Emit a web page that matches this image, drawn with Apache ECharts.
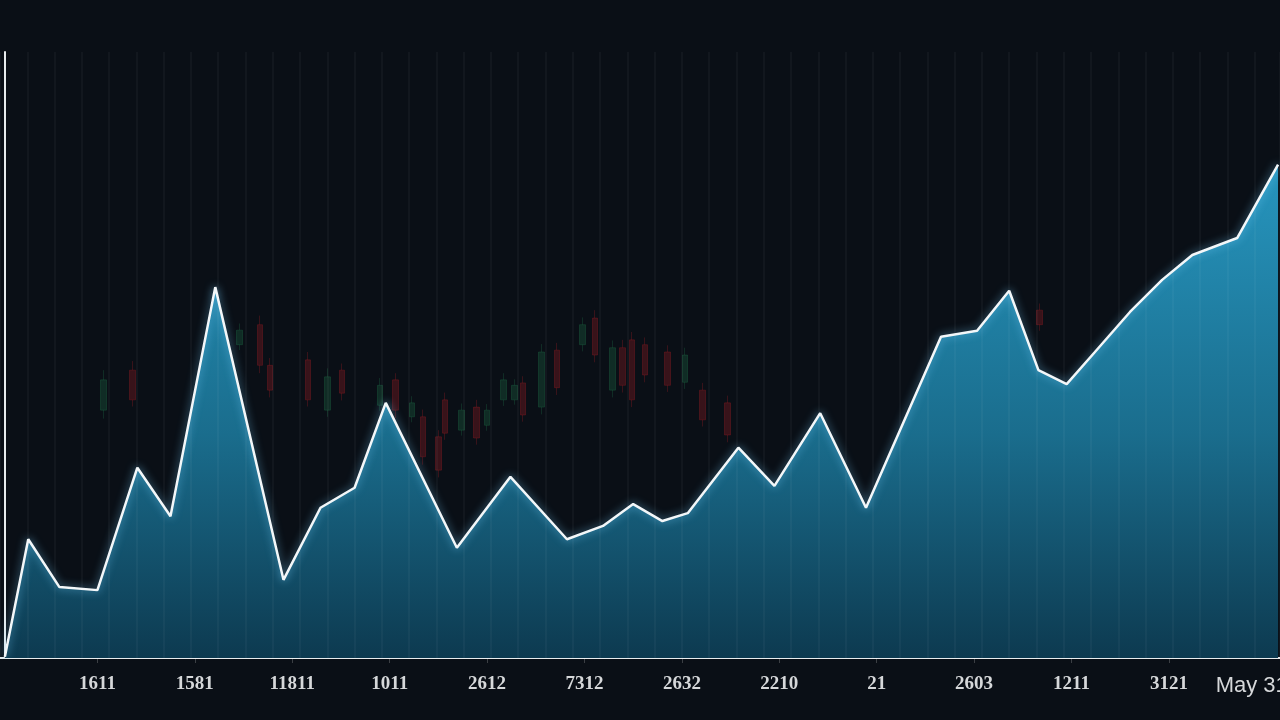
<!DOCTYPE html>
<html>
<head>
<meta charset="utf-8">
<title>Area trend</title>
<script src="https://cdn.jsdelivr.net/npm/echarts@6.0.0/dist/echarts.min.js"></script>
<style>
  html, body { margin: 0; padding: 0; background: #0a0f16; }
  #chart { width: 1280px; height: 720px; }
</style>
</head>
<body>
<div id="chart"></div>
<script>
// line vertices (x in axis units, y 0-100)
const xs = [0.5, 2.9, 6.1, 10.0, 14.1, 17.5, 22.1, 29.1, 32.9, 36.4, 39.6, 46.9, 52.4, 58.2, 61.9, 65.0, 68.0, 70.6, 75.8, 79.5, 84.2, 88.9, 96.6, 100.3, 103.6, 106.6, 109.5, 112.4, 116.0, 119.3, 122.4, 127.0, 131.2]
const ys = [0.2, 19.6, 11.7, 11.2, 31.4, 23.4, 61.2, 12.9, 24.8, 28.1, 42.1, 18.2, 29.9, 19.6, 21.8, 25.4, 22.6, 23.9, 34.7, 28.4, 40.4, 24.8, 53.0, 54.0, 60.6, 47.5, 45.2, 50.5, 57.1, 62.4, 66.5, 69.3, 81.4]

// faint candles behind the area: x, open, close, low, high
const candleX = [10.6, 13.6, 24.6, 26.7, 27.7, 31.6, 33.6, 35.1, 39.0, 40.6, 42.3, 43.4, 45.0, 45.7, 47.4, 48.9, 50.0, 51.7, 52.8, 53.7, 55.6, 57.2, 59.8, 61.1, 62.9, 63.9, 64.9, 66.2, 68.5, 70.3, 72.1, 74.7, 106.7]
const candleOpen = [40.9, 47.5, 51.7, 55.0, 48.3, 49.2, 40.9, 47.5, 41.7, 45.9, 39.8, 39.8, 36.5, 42.6, 37.6, 41.4, 38.4, 42.6, 42.6, 45.4, 41.4, 50.8, 51.7, 56.1, 44.2, 51.2, 52.5, 51.7, 50.5, 45.5, 44.2, 42.1, 57.4]
const candleClose = [45.9, 42.6, 54.1, 48.3, 44.2, 42.6, 46.4, 43.7, 45.0, 40.9, 42.1, 33.2, 31.0, 37.1, 40.9, 36.3, 40.9, 45.9, 45.0, 40.1, 50.5, 44.6, 55.0, 50.0, 51.2, 45.0, 42.6, 46.7, 45.0, 50.0, 39.3, 36.8, 55.0]
const candleLow = [39.5, 41.5, 50.8, 47.0, 43.0, 41.5, 39.8, 42.5, 40.8, 39.6, 38.9, 31.9, 29.8, 36.0, 36.7, 35.2, 37.5, 41.6, 41.8, 39.0, 40.2, 43.4, 50.6, 48.8, 43.0, 43.8, 41.4, 45.5, 43.9, 44.4, 38.2, 35.6, 54.0]
const candleHigh = [47.5, 49.0, 55.2, 56.5, 49.5, 50.5, 47.8, 48.6, 46.2, 47.0, 43.2, 41.0, 37.6, 43.8, 42.0, 42.6, 41.9, 47.0, 46.0, 46.5, 51.8, 52.0, 56.2, 57.4, 52.4, 52.5, 53.8, 52.9, 51.6, 51.2, 45.4, 43.3, 58.5]

// x axis labels
const tickValues = [10, 20, 30, 40, 50, 60, 70, 80, 90, 100, 110, 120, 128.5]
const tickLabels = ['1611', '1581', '11811', '1011', '2612', '7312', '2632', '2210', '21', '2603', '1211', '3121', 'May 31']

const lineData = xs.map((x, i) => [x, ys[i]])
const candleData = candleX.map((x, i) => [x, candleOpen[i], candleClose[i], candleLow[i], candleHigh[i]])

const chart = echarts.init(document.getElementById('chart'))
chart.setOption({
  backgroundColor: '#0a0f16',
  animation: false,
  grid: { left: 0, right: 0, top: 52, bottom: 62, outerBoundsMode: 'none', containLabel: false },
  xAxis: [
    {
      type: 'value',
      min: 0,
      max: 131.4,
      interval: 10,
      axisLine: { show: true, lineStyle: { color: '#e8ecee', width: 2 } },
      axisTick: { show: true, customValues: tickValues.slice(0, 12), length: 5, lineStyle: { color: 'rgba(255,255,255,0.2)' } },
      axisLabel: {
        customValues: tickValues,
        margin: 17,
        color: '#d6d8da',
        fontSize: 19,
        fontWeight: 'bold',
        fontFamily: 'Liberation Serif',
        formatter: (v) => {
          const t = tickLabels[tickValues.indexOf(v)] || ''
          return t.startsWith('May') ? '{m|' + t + '}' : t
        },
        rich: {
          m: { fontSize: 22, fontFamily: 'Liberation Sans', fontWeight: 'normal', color: '#d6d8da' }
        }
      },
      splitLine: { show: false }
    },
    {
      // only for the thin vertical stripes, drawn over the area too
      type: 'value',
      position: 'top',
      z: 4,
      min: 0,
      max: 131.4,
      interval: 2.8,
      axisLine: { show: false },
      axisTick: { show: false },
      axisLabel: { show: false },
      splitLine: { show: true, lineStyle: { color: 'rgba(255,255,255,0.035)', width: 2 } }
    }
  ],
  yAxis: {
    type: 'value',
    min: 0,
    max: 100,
    offset: -5,
    axisLine: { show: true, lineStyle: { color: '#e8ecee', width: 2 } },
    axisTick: { show: false },
    axisLabel: { show: false },
    splitLine: { show: false }
  },
  series: [
    {
      name: 'candles',
      type: 'candlestick',
      xAxisIndex: 0,
      data: candleData,
      encode: { x: 0, y: [1, 2, 3, 4] },
      barWidth: 6,
      z: 1,
      itemStyle: {
        color: 'rgba(40,150,90,0.22)',
        color0: 'rgba(190,30,40,0.26)',
        borderColor: 'rgba(40,150,90,0.22)',
        borderColor0: 'rgba(190,30,40,0.26)',
        borderWidth: 1
      }
    },
    {
      name: 'trend',
      type: 'line',
      xAxisIndex: 0,
      data: lineData,
      symbol: 'none',
      z: 3,
      lineStyle: {
        color: '#f3f7f9',
        width: 2.5,
        shadowBlur: 8,
        shadowColor: 'rgba(120,210,255,0.7)'
      },
      areaStyle: {
        opacity: 1,
        color: new echarts.graphic.LinearGradient(0, 160, 0, 658, [
          { offset: 0, color: '#2796bf' },
          { offset: 0.55, color: '#1a6d8d' },
          { offset: 1, color: '#0d3a50' }
        ], true)
      }
    }
  ]
})
</script>
</body>
</html>
